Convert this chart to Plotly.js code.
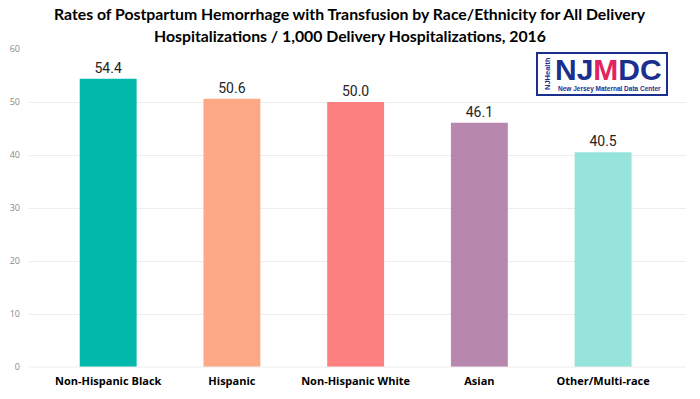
<!DOCTYPE html>
<html><head><meta charset="utf-8">
<script src="https://cdn.plot.ly/plotly-3.0.1.min.js"></script>
<style>body{margin:0;background:#fff}#chart{width:700px;height:399px}</style>
</head><body><div id="chart"></div>
<script>
const categories = ["Non-Hispanic Black", "Hispanic", "Non-Hispanic White", "Asian", "Other/Multi-race"];
const rates = [54.4, 50.6, 50.0, 46.1, 40.5];
const barColors = ["#01B8AA", "#FEA985", "#FD8080", "#B887AD", "#96E3DC"];
const yTicks = [0, 10, 20, 30, 40, 50, 60];
const titleLines = ["Rates of Postpartum Hemorrhage with Transfusion by Race/Ethnicity for All Delivery",
                    "Hospitalizations / 1,000 Delivery Hospitalizations, 2016"];

const L = 29, T = 49, W = 657, H = 318;
const px = x => (x - L) / W;
const py = y => (T + H - y) / H;

const trace = {
  type: "bar",
  x: categories,
  y: rates,
  marker: {color: barColors, line: {width: 0}},
  text: rates.map(v => v.toFixed(1)),
  textposition: "outside",
  cliponaxis: false,
  textfont: {family: "Roboto, 'DejaVu Sans Condensed', sans-serif", size: 14, color: "#252423"},
  hoverinfo: "x+y"
};

const titleFont = {family: "Lato, 'Open Sans', sans-serif", size: 15.8, color: "#000", weight: 700};

const layout = {
  width: 700, height: 399,
  margin: {l: L, r: 700 - L - W, t: T, b: 399 - T - H},
  paper_bgcolor: "#fff", plot_bgcolor: "#fff",
  bargap: 0.54,
  showlegend: false,
  xaxis: {type: "category", range: [-0.64, 4.67], showgrid: false, zeroline: false, showline: false,
    ticks: "", ticklabelstandoff: 6,
    tickfont: {family: "'Open Sans', sans-serif", size: 11, color: "#000", weight: 700}},
  yaxis: {range: [0, 60], tickvals: yTicks, showgrid: true, gridcolor: "#EDEDED", gridwidth: 1,
    zeroline: false, showline: false, ticks: "", ticklabelstandoff: 8,
    tickfont: {family: "'Open Sans', sans-serif", size: 9, color: "#888"}},
  shapes: [
    {type: "line", xref: "paper", yref: "paper", x0: 0, x1: 1, y0: 0, y1: 0, line: {color: "#EDEDED", width: 1}},
    {type: "rect", xref: "paper", yref: "paper", x0: px(537), x1: px(667), y0: py(53), y1: py(95),
      fillcolor: "#fff", line: {color: "#1B2F8F", width: 2}, layer: "above"}
  ],
  annotations: [
    {xref: "paper", yref: "paper", x: px(350), y: py(14), xanchor: "center", yanchor: "middle", showarrow: false,
      text: titleLines[0], font: titleFont},
    {xref: "paper", yref: "paper", x: px(350), y: py(35), xanchor: "center", yanchor: "middle", showarrow: false,
      text: titleLines[1], font: titleFont},
    {xref: "paper", yref: "paper", x: px(547), y: py(74), xanchor: "center", yanchor: "middle",
      text: "<b>NJHealth</b>", showarrow: false, textangle: -90,
      font: {family: "'Liberation Sans Narrow', 'Liberation Sans', sans-serif", size: 7.5, color: "#1B2F8F"}},
    {xref: "paper", yref: "paper", x: px(608), y: py(69), xanchor: "center", yanchor: "middle", showarrow: false,
      text: "<b>NJ<span style='color:#E0245E'>M</span>DC</b>",
      font: {family: "'Liberation Sans Narrow', 'Liberation Sans', sans-serif", size: 30, color: "#1B2F8F"}},
    {xref: "paper", yref: "paper", x: px(609), y: py(89), xanchor: "center", yanchor: "middle", showarrow: false,
      text: "<b>New Jersey Maternal Data Center</b>",
      font: {family: "'Liberation Sans', sans-serif", size: 6.5, color: "#1B2F8F"}}
  ]
};
Plotly.newPlot("chart", [trace], layout, {displayModeBar: false, staticPlot: true});
</script></body></html>
